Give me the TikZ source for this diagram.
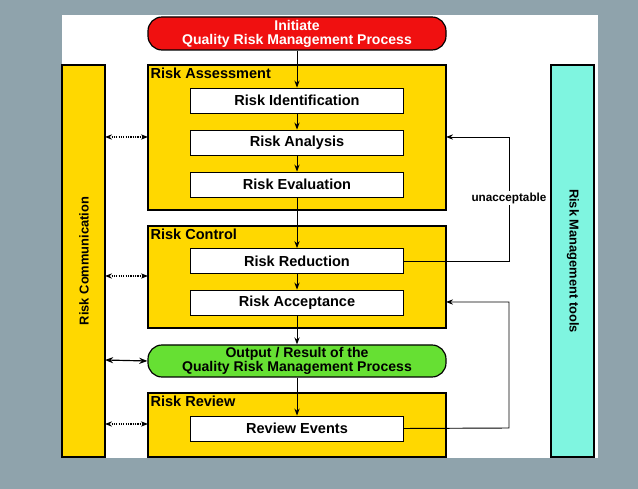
\documentclass[tikz,border=0pt]{standalone}
\usepackage{fontspec}
\setmainfont{Liberation Sans}
\usetikzlibrary{arrows.meta}
\definecolor{bg}{HTML}{8FA3AC}
\definecolor{yel}{HTML}{FFD800}
\definecolor{cy}{HTML}{7FF5E0}
\definecolor{rd}{HTML}{F01010}
\definecolor{gr}{HTML}{66E033}
\newcommand{\mf}{\fontsize{12.4}{13.5}\selectfont\bfseries}
\newcommand{\twof}{\fontsize{12}{12}\selectfont\bfseries}
\newcommand{\sidef}{\fontsize{11}{12}\selectfont\bfseries}
\begin{document}
\begin{tikzpicture}[x=0.03cm,y=-0.03cm,
  box/.style={draw,line width=1pt,fill=yel},
  wb/.style={draw,line width=0.7pt,fill=white,minimum width=213*0.03cm,minimum height=25*0.03cm,font=\mf},
  lbl/.style={font=\mf,anchor=north west,inner sep=2pt},
  arr/.style={-{Stealth[length=6pt]},line width=0.8pt},
  dar/.style={{Stealth[length=6pt]}-{Stealth[length=6pt]},densely dotted,line width=1pt},
  every node/.style={align=center}]
\fill[bg] (0,0) rectangle (638,489);
\fill[white] (62,15) rectangle (598,458);
% side bars
\draw[box] (62,65) rectangle (105,457);
\node[rotate=90,font=\sidef] (rc) at (84,261) {Risk Communication};
\draw[line width=1pt,fill=cy] (551,65) rectangle (594,457);
\node[rotate=-90,font=\sidef] (rm) at (573,261) {Risk Management tools};
% top
\node[draw,line width=1pt,fill=rd,rounded corners=12pt,minimum width=298*0.03cm,minimum height=33*0.03cm,text=white,font=\twof,inner sep=1pt] (init) at (297,33.5) {Initiate\\Quality Risk Management Process};
% assessment
\draw[box] (148,65) rectangle (446,210);
\node[lbl] at (148,65) {Risk Assessment};
\node[wb] (ri) at (297,100.5) {Risk Identification};
\node[wb] (ra) at (297,142.5) {Risk Analysis};
\node[wb] (re) at (297,184.5) {Risk Evaluation};
% control
\draw[box] (148,226) rectangle (446,328);
\node[lbl] at (148,226) {Risk Control};
\node[wb] (rr) at (297,261) {Risk Reduction};
\node[wb] (rac) at (297,302.5) {Risk Acceptance};
% output
\node[draw,line width=1pt,fill=gr,rounded corners=12pt,minimum width=298*0.03cm,minimum height=32*0.03cm,font=\twof,inner sep=1pt] (out) at (297,361) {Output / Result of the\\Quality Risk Management Process};
% review
\draw[box] (148,393) rectangle (446,457);
\node[lbl] at (148,393) {Risk Review};
\node[wb] (rev) at (297,428.5) {Review Events};
\draw[arr] (init) -- (ri);
\draw[arr] (ri) -- (ra);
\draw[arr] (ra) -- (re);
\draw[arr] (re) -- (rr);
\draw[arr] (rr) -- (rac);
\draw[arr] (rac) -- (out);
\draw[arr] (out) -- (rev);
% communication arrows
\coordinate (c1l) at (105,137); \coordinate (c1r) at (148,137);
\coordinate (c2l) at (105,276); \coordinate (c2r) at (148,276);
\coordinate (c3l) at (105,424); \coordinate (c3r) at (148,424);
\coordinate (c4l) at (105,360);
\draw[dar] (c1l) -- (c1r);
\draw[dar] (c2l) -- (c2r);
\draw[dar] (c3l) -- (c3r);
\draw[{Stealth[length=7pt]}-{Stealth[length=7pt]},line width=1pt] (c4l) -- (out.west);
% feedback
\coordinate (f1) at (446,137);
\coordinate (f2) at (446,302);
\draw[arr] (rr.east) -- (509,261) -- (509,137) -- (f1);
\draw[arr] (rev.east) -- (509,428) -- (509,302) -- (f2);
\node[fill=white,font=\fontsize{10}{11}\selectfont\bfseries,inner sep=1pt] (un) at (509,198) {unacceptable};
\end{tikzpicture}
\end{document}
